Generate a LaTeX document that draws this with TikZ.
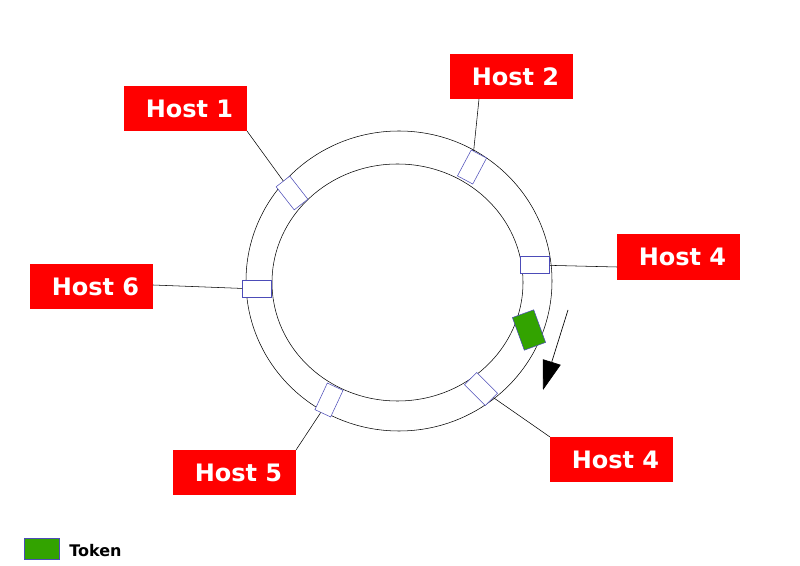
\documentclass[tikz,border=0pt]{standalone}
\usepackage{fontspec}
\setmainfont{DejaVu Sans}
\usetikzlibrary{arrows.meta}
\begin{document}
\begin{tikzpicture}[x=0.75pt,y=-0.75pt,
 host/.style={fill=red,text=white,font=\bfseries\fontsize{18}{20}\selectfont,minimum width=92.25pt,minimum height=34pt,inner sep=0pt},
 port/.style={draw=blue!60!black!70,fill=white,line width=0.4pt,minimum width=22pt,minimum height=13pt,inner sep=0pt},
 lnk/.style={line width=0.4pt}]
\useasboundingbox (0,0) rectangle (800,566);
\draw[line width=0.4pt] (399,281) ellipse [x radius=153, y radius=150];
\draw[line width=0.4pt] (397.5,282.5) ellipse [x radius=125.5, y radius=118.5];
\node[port] (p4) at (535,265) {};
\node[port] (p6) at (257,289) {};
\node[port,rotate=-52] (p1) at (292,193) {};
\node[port,rotate=62] (p2) at (472,167) {};
\node[port,rotate=-45] (p4b) at (481,389) {};
\node[port,rotate=65] (p5) at (329,400) {};
\node[draw=blue!60!black!70,fill=green!55!black!80!yellow,minimum width=17pt,minimum height=26pt,inner sep=0pt,rotate=20] (tok) at (529,330) {};
\node[host] (h1) at (185.5,108.5) {\hspace{6pt}Host 1};
\node[host] (h2) at (511.5,76.5) {\hspace{6pt}Host 2};
\node[host] (h4) at (678.5,257) {\hspace{6pt}Host 4};
\node[host] (h6) at (91.5,286.5) {\hspace{6pt}Host 6};
\node[host] (h5) at (234.5,472.5) {\hspace{6pt}Host 5};
\node[host] (h4b) at (611.5,459.5) {\hspace{6pt}Host 4};
\coordinate (a1) at (247,131); \coordinate (a2) at (479,99);
\coordinate (a4) at (617,267); \coordinate (a6) at (153,285);
\coordinate (a5) at (296,450); \coordinate (a4b) at (550,437);
\draw[lnk] (a1) -- (p1); \draw[lnk] (a2) -- (p2); \draw[lnk] (a4) -- (p4);
\draw[lnk] (a6) -- (p6); \draw[lnk] (a5) -- (p5); \draw[lnk] (a4b) -- (p4b);
\coordinate (ar1) at (568,310); \coordinate (ar2) at (543,390);
\draw[line width=0.5pt,-{Triangle[length=22pt,width=14pt]}] (ar1) -- (ar2);
\node[draw=blue!60!black!70,fill=green!55!black!80!yellow,minimum width=26pt,minimum height=16pt,inner sep=0pt] (lg) at (41.5,549) {};
\node[anchor=west,font=\bfseries\fontsize{12}{14}\selectfont,inner sep=0pt] (lt) at (69,551) {Token};
\end{tikzpicture}
\end{document}
